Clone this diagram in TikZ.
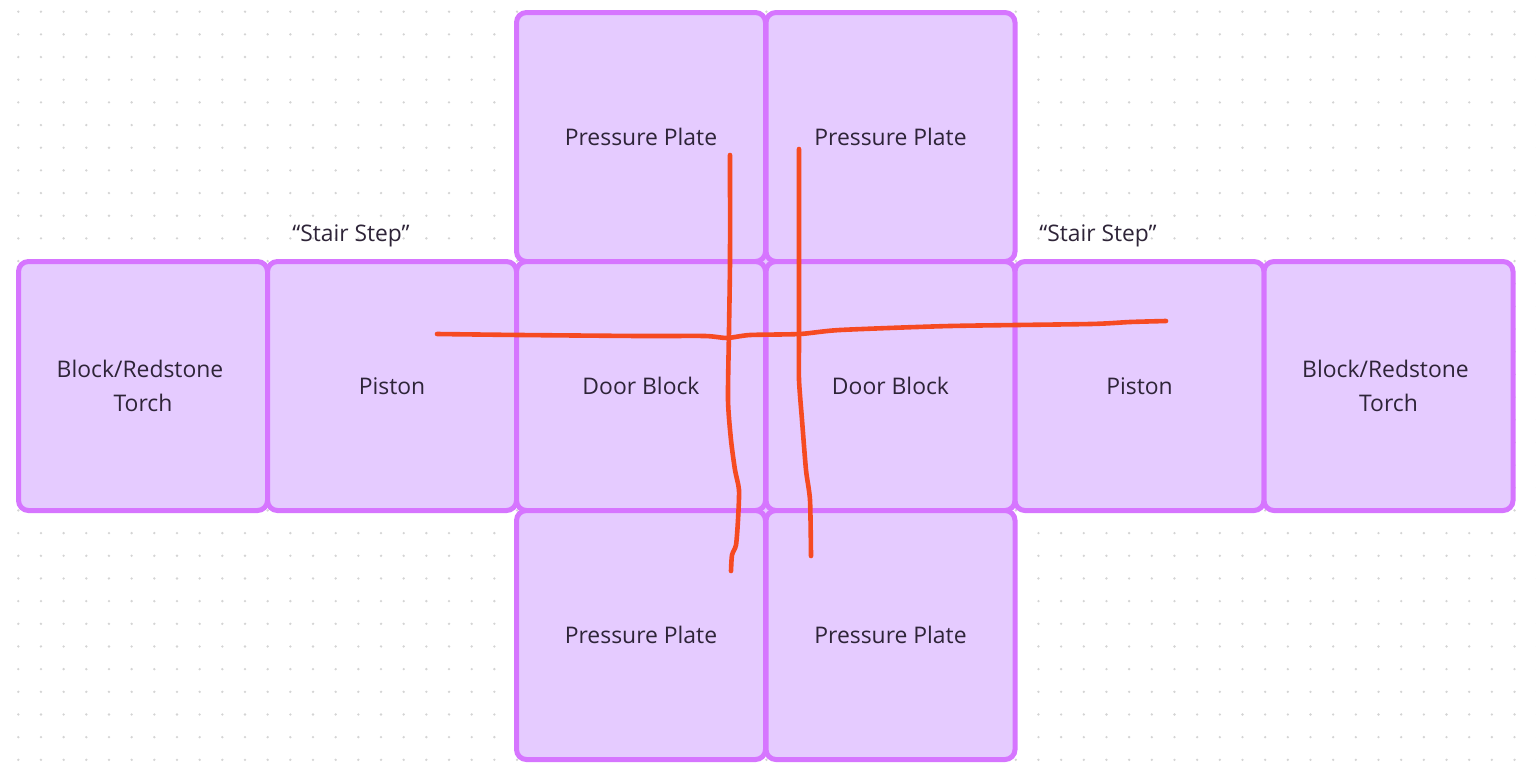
\documentclass[tikz,border=0pt]{standalone}
\usepackage{fontspec}
\setmainfont{Open Sans}
\definecolor{boxfill}{HTML}{E5CBFF}
\definecolor{boxline}{HTML}{D675FF}
\definecolor{ink}{HTML}{2E2438}
\definecolor{redline}{HTML}{F64A22}
\definecolor{griddot}{HTML}{D4D4D4}
\tikzset{
  x=0.5pt,y=-0.5pt,
  cell/.style={draw=boxline,fill=boxfill,line width=2.5pt,rounded corners=5pt,
    minimum width=124.5pt,minimum height=124.5pt,inner sep=0pt,outer sep=0pt,
    text=ink,align=center,font=\fontsize{11.45}{17}\selectfont},
  caption/.style={text=ink,inner sep=0pt,font=\fontsize{11.4}{13}\selectfont},
  stroke/.style={draw=redline,line width=2.3pt,line cap=round,line join=round},
}
\begin{document}
\begin{tikzpicture}
\useasboundingbox (0,0) rectangle (1536,777);
\fill[white] (0,0) rectangle (1536,777);
\foreach \i in {0,...,67}{\foreach \j in {0,...,33}{
  \fill[griddot] ({18.3+22.67*\i},{11.7+22.67*\j}) circle (1.3);}}
\fill[boxfill] (765.5,261) circle (4);
\fill[boxfill] (765.5,510) circle (4);
\node[cell] (ptl) at (641,137) {Pressure Plate};
\node[cell] (ptr) at (890.5,137) {Pressure Plate};
\node[cell] (tl) at (143,386) {Block/Redstone\hspace*{3pt}\\Torch};
\node[cell] (pl) at (392,386) {Piston};
\node[cell] (dl) at (641,386) {Door Block};
\node[cell] (dr) at (890.5,386) {Door Block};
\node[cell] (pr) at (1139.5,386) {Piston};
\node[cell] (tr) at (1388.5,386) {Block/Redstone\hspace*{3pt}\\Torch};
\node[cell] (pbl) at (641,635) {Pressure Plate};
\node[cell] (pbr) at (890.5,635) {Pressure Plate};
\node[caption] (sl) at (351,236) {“Stair Step”};
\node[caption] (sr) at (1098,236) {“Stair Step”};
\draw[stroke] plot[smooth,tension=0.4] coordinates {(437,334) (520,335) (640,336) (705,336) (727,338) (750,335) (800,334) (840,330) (950,326) (1090,324) (1130,322) (1166,321)};
\draw[stroke] plot[smooth,tension=0.4] coordinates {(730,155) (730,260) (729,330) (728,400) (731,440) (735,470) (739,490) (738,520) (736,545) (732,555) (731,571)};
\draw[stroke] plot[smooth,tension=0.4] coordinates {(799,149) (799,260) (799,340) (799,380) (802,420) (806,470) (810,500) (811,556)};
\end{tikzpicture}
\end{document}
